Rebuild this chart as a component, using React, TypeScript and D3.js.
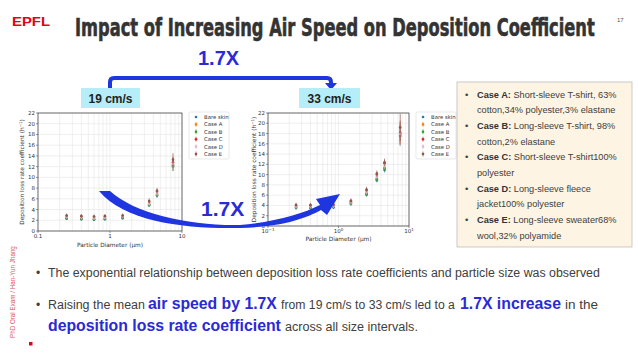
import React from 'react';
import * as d3 from 'd3';

// ---------- DATA ----------
const diameters = [0.25, 0.4, 0.6, 0.85, 1.5, 2.5, 3.5, 4.5, 7.5];
const seriesNames = ['Bare skin', 'Case A', 'Case B', 'Case C', 'Case D', 'Case E'];
const seriesColors = ['#1f77b4', '#ff7f0e', '#2ca02c', '#d62728', '#e2b8cc', '#8c564b'];

// 19 cm/s
const slowBare = [2.3, 2.2, 2.1, 2.2, 2.4, 3.1, 4.8, 6.6, 12.0];
const slowA = [2.5, 2.4, 2.3, 2.4, 2.6, 3.3, 5.0, 6.8, 12.3];
const slowB = [2.4, 2.3, 2.2, 2.3, 2.5, 3.2, 4.9, 6.7, 12.2];
const slowC = [2.8, 2.7, 2.6, 2.7, 2.8, 3.6, 5.4, 7.3, 12.8];
const slowD = [2.6, 2.5, 2.4, 2.5, 2.7, 3.4, 5.1, 7.0, 12.5];
const slowE = [2.9, 2.8, 2.7, 2.8, 2.9, 3.7, 5.6, 7.5, 13.3];
const slowErr = [0.3, 0.3, 0.3, 0.3, 0.3, 0.35, 0.4, 0.45, 1.0];

// 33 cm/s
const fastBare = [3.5, 3.5, 3.5, 3.6, 4.3, 6.1, 8.9, 10.9, 17.5];
const fastA = [3.7, 3.7, 3.7, 3.8, 4.5, 6.4, 9.3, 11.4, 18.0];
const fastB = [3.6, 3.6, 3.6, 3.7, 4.4, 6.2, 9.1, 11.2, 17.8];
const fastC = [4.0, 4.0, 4.0, 4.1, 4.8, 6.9, 10.0, 12.2, 18.2];
const fastD = [3.8, 3.8, 3.8, 3.9, 4.6, 6.6, 9.6, 11.8, 17.9];
const fastE = [4.1, 4.1, 4.1, 4.2, 4.9, 7.1, 10.2, 12.4, 19.2];
const fastErr = [0.35, 0.35, 0.35, 0.35, 0.4, 0.45, 0.5, 0.6, 2.2];

const yTicks = [0, 2, 4, 6, 8, 10, 12, 14, 16, 18, 20, 22];
const xMajor = [0.1, 1, 10];
const leftXLabels = ['0.1', '1', '10'];
const rightXExp = ['−1', '0', '1'];

const caseLines = [
  { bold: 'Case A:', text: ' Short-sleeve T-shirt, 63%', bullet: true },
  { bold: '', text: 'cotton,34% polyester,3% elastane', bullet: false },
  { bold: 'Case B:', text: ' Long-sleeve T-shirt, 98%', bullet: true },
  { bold: '', text: 'cotton,2% elastane', bullet: false },
  { bold: 'Case C:', text: ' Short-sleeve T-shirt100%', bullet: true },
  { bold: '', text: 'polyester', bullet: false },
  { bold: 'Case D:', text: ' Long-sleeve fleece', bullet: true },
  { bold: '', text: 'jacket100% polyester', bullet: false },
  { bold: 'Case E:', text: ' Long-sleeve sweater68%', bullet: true },
  { bold: '', text: 'wool,32% polyamide', bullet: false },
];

const BLUE = '#2a2ad6';
const ARROW = '#1f35e0';
const GRAY = '#404040';
const CF = 'DejaVu Sans, sans-serif';
const AF = 'Liberation Sans, Arial, sans-serif';
const NF = 'Liberation Sans Narrow, Arial Narrow, Liberation Sans, sans-serif';

function FitText(props: any) {
  const { x, y, width, children, ...rest } = props;
  const ref = React.useRef<SVGTextElement>(null);
  const [s, setS] = React.useState(1);
  React.useLayoutEffect(() => {
    if (ref.current) {
      const w = ref.current.getComputedTextLength();
      if (w > 0) setS(width / w);
    }
  }, [width]);
  return (
    <text ref={ref} transform={`translate(${x},${y}) scale(${s},1)`} {...rest}>
      {children}
    </text>
  );
}

type ChartProps = {
  left: number; right: number; top: number; bottom: number;
  series: number[][]; err: number[];
  power: boolean; yLabelX: number; xTickY: number; xTitleY: number;
  legendX: number; legendW: number;
};

function Chart(p: ChartProps) {
  const x = d3.scaleLog().domain([0.1, 10]).range([p.left, p.right]);
  const y = d3.scaleLinear().domain([0, 22]).range([p.bottom, p.top]);
  const xGrid = x.ticks();
  const cx = (p.left + p.right) / 2;
  const cy = (p.top + p.bottom) / 2;
  const rowH = 7.4;
  return (
    <g>
      {xGrid.map((t, i) => (
        <line key={'gx' + i} x1={x(t)} x2={x(t)} y1={p.top} y2={p.bottom} stroke="#e4e4e4" strokeWidth={0.6} />
      ))}
      {yTicks.map((t, i) => (
        <line key={'gy' + i} x1={p.left} x2={p.right} y1={y(t)} y2={y(t)} stroke="#e4e4e4" strokeWidth={0.6} />
      ))}
      <rect x={p.left} y={p.top} width={p.right - p.left} height={p.bottom - p.top} fill="none" stroke="#333" strokeWidth={0.7} />
      {yTicks.map((t, i) => (
        <g key={'ty' + i}>
          <line x1={p.left - 2} x2={p.left} y1={y(t)} y2={y(t)} stroke="#333" strokeWidth={0.5} />
          <text x={p.left - 3} y={y(t) + 2} fontSize={5.5} textAnchor="end" fontFamily={CF} fill="#333">{t}</text>
        </g>
      ))}
      {xMajor.map((t, i) => (
        <g key={'tx' + i}>
          <line x1={x(t)} x2={x(t)} y1={p.bottom} y2={p.bottom + 2} stroke="#333" strokeWidth={0.5} />
          {p.power ? (
            <text x={x(t)} y={p.xTickY} fontSize={5.5} textAnchor="middle" fontFamily={CF} fill="#333">
              10<tspan dy={-2} fontSize={4}>{rightXExp[i]}</tspan>
            </text>
          ) : (
            <text x={x(t)} y={p.xTickY} fontSize={5.5} textAnchor="middle" fontFamily={CF} fill="#333">{leftXLabels[i]}</text>
          )}
        </g>
      ))}
      <text x={cx} y={p.xTitleY} fontSize={5.8} textAnchor="middle" fontFamily={CF} fill="#333">Particle Diameter (μm)</text>
      <text transform={`translate(${p.yLabelX},${cy}) rotate(-90)`} fontSize={5.8} textAnchor="middle" fontFamily={CF} fill="#333">
        Deposition loss rate coefficient (h<tspan dy={-2} fontSize={4}>−1</tspan><tspan dy={2}>)</tspan>
      </text>
      {p.series.map((vals, si) => (
        <g key={'s' + si}>
          {vals.map((v, di) => {
            const e = p.err[di] * (0.8 + si * 0.08);
            return (
              <g key={di}>
                <line x1={x(diameters[di])} x2={x(diameters[di])} y1={y(v - e)} y2={y(v + e)} stroke={seriesColors[si]} strokeWidth={0.7} />
                <circle cx={x(diameters[di])} cy={y(v)} r={1.3} fill={seriesColors[si]} />
              </g>
            );
          })}
        </g>
      ))}
      <rect x={p.legendX} y={p.top - 1} width={p.legendW} height={47} rx={1.5} fill="white" stroke="#d8d8d8" strokeWidth={0.6} />
      {seriesNames.map((n, i) => {
        const ly = p.top + 4 + i * rowH;
        return (
          <g key={'l' + i}>
            {i > 0 && <line x1={p.legendX + 7} x2={p.legendX + 7} y1={ly - 2.5} y2={ly + 2.5} stroke={seriesColors[i]} strokeWidth={0.7} />}
            <circle cx={p.legendX + 7} cy={ly} r={1.3} fill={seriesColors[i]} />
            <text x={p.legendX + 15} y={ly + 1.9} fontSize={5.3} fontFamily={CF} fill="#333">{n}</text>
          </g>
        );
      })}
    </g>
  );
}

export default function App() {
  const slow = [slowBare, slowA, slowB, slowC, slowD, slowE];
  const fast = [fastBare, fastA, fastB, fastC, fastD, fastE];
  return (
    <svg width={638} height={359} style={{ position: 'absolute', left: 0, top: 0, background: 'white' }}>
      <rect width={638} height={359} fill="white" />
      {/* header */}
      <FitText x={12} y={26} width={38} fontSize={12} fontWeight="bold" fill="#e2001a" fontFamily={AF}>EPFL</FitText>
      <FitText x={75} y={36} width={520} fontSize={25} fontWeight="bold" fill="#333" stroke="#333" strokeWidth={0.6}
        fontFamily="DejaVu Sans Condensed, DejaVu Sans, sans-serif">Impact of Increasing Air Speed on Deposition Coefficient</FitText>
      <text x={617} y={22} fontSize={6} fill="#555" fontFamily={AF}>17</text>

      {/* top bracket */}
      <text x={198} y={65} fontSize={20} fontWeight="bold" fill={BLUE} fontFamily={AF}>1.7X</text>
      <path d="M110,89 V82 Q110,78 114,78 H327 Q331,78 331,82 V84" fill="none" stroke={ARROW} strokeWidth={4} />
      <path d="M325,83 L337,83 L331,90 Z" fill={ARROW} />
      <rect x={81} y={88} width={59} height={20} fill="#b5edf8" />
      <text x={110.5} y={103} fontSize={12} fontWeight="bold" fill="#222" textAnchor="middle" fontFamily={AF}>19 cm/s</text>
      <rect x={299} y={88} width={61} height={20} fill="#b5edf8" />
      <text x={329.5} y={103} fontSize={12} fontWeight="bold" fill="#222" textAnchor="middle" fontFamily={AF}>33 cm/s</text>

      <Chart left={38} right={182} top={113} bottom={231} series={slow} err={slowErr} power={false}
        yLabelX={24} xTickY={238} xTitleY={247} legendX={189} legendW={40} />
      <Chart left={268} right={409} top={113} bottom={226} series={fast} err={fastErr} power={true}
        yLabelX={256} xTickY={233} xTitleY={241} legendX={416} legendW={40} />

      {/* curved arrow */}
      <path d="M99,191 C125,222 185,229 240,228 C280,227 305,219 321,210 L327,215 L340,194 L316,199 L320,205 C302,214 275,222 240,225 C190,226 135,214 110,191 Z" fill={ARROW} />
      <text x={201} y={216} fontSize={21} fontWeight="bold" fill={BLUE} fontFamily={AF}>1.7X</text>

      {/* case box */}
      <rect x={457} y={82} width={175} height={165} fill="#fdf4e3" stroke="#bdbdbd" strokeWidth={0.8} />
      {caseLines.map((l, i) => {
        const by = 97.5 + i * 15.7;
        return (
          <g key={'c' + i}>
            {l.bullet && <text x={465} y={by} fontSize={9.5} fill={GRAY} fontFamily={AF}>•</text>}
            <text x={477} y={by} fontSize={9.2} fill={GRAY} fontFamily={AF}>
              {l.bold && <tspan fontWeight="bold" fill="#333">{l.bold}</tspan>}
              <tspan>{l.text}</tspan>
            </text>
          </g>
        );
      })}

      {/* bottom text */}
      <text x={36} y={277} fontSize={12} fill={GRAY} fontFamily={AF}>•</text>
      <FitText x={48} y={277} width={552} fontSize={13.5} fill={GRAY} fontFamily={NF}>The exponential relationship between deposition loss rate coefficients and particle size was observed</FitText>
      <text x={36} y={309} fontSize={12} fill={GRAY} fontFamily={AF}>•</text>
      <FitText x={48} y={309} width={97} fontSize={13.5} fill={GRAY} fontFamily={NF}>Raising the mean</FitText>
      <FitText x={148} y={309} width={129} fontSize={16.5} fontWeight="bold" fill={BLUE} fontFamily={AF}>air speed by 1.7X</FitText>
      <FitText x={281} y={309} width={174} fontSize={13.5} fill={GRAY} fontFamily={NF}>from 19 cm/s to 33 cm/s led to a</FitText>
      <FitText x={460} y={309} width={101} fontSize={16.5} fontWeight="bold" fill={BLUE} fontFamily={AF}>1.7X increase</FitText>
      <FitText x={565} y={309} width={33} fontSize={13.5} fill={GRAY} fontFamily={NF}>in the</FitText>
      <FitText x={48} y={331} width={233} fontSize={16.5} fontWeight="bold" fill={BLUE} fontFamily={AF}>deposition loss rate coefficient</FitText>
      <FitText x={285} y={331} width={133} fontSize={13.5} fill={GRAY} fontFamily={NF}>across all size intervals.</FitText>

      {/* footer */}
      <g transform="translate(15,292) rotate(-90)">
        <FitText x={-46} y={0} width={92} fontSize={6.5} fill="#e05565" fontFamily={AF}>PhD Oral Exam / Han-Yun Jhang</FitText>
      </g>
      <rect x={29} y={342} width={3.5} height={3.5} fill="#e2001a" />
    </svg>
  );
}
